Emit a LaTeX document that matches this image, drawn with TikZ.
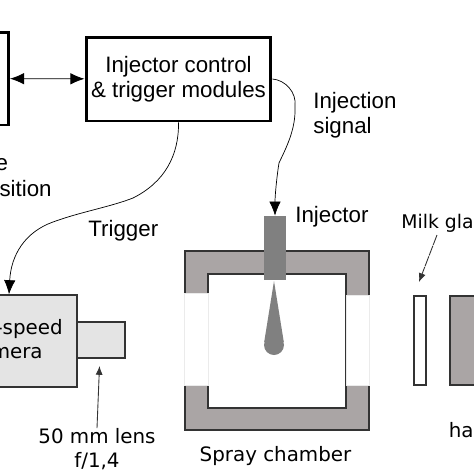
\documentclass[tikz,border=0pt]{standalone}
\usepackage{fontspec}
\setmainfont{Liberation Sans}
\newfontfamily\dejavu{DejaVu Sans}
\usepackage{xcolor}
\usetikzlibrary{arrows.meta,positioning}

\definecolor{wallgray}{HTML}{AAA5A5}
\definecolor{jetgray}{HTML}{808080}
\definecolor{camgray}{HTML}{E4E4E4}
\definecolor{edgegray}{HTML}{333333}

\tikzset{
  ctrlbox/.style={draw=black, line width=1.7pt, inner sep=0pt, align=center},
  campart/.style={draw=edgegray, line width=0.85pt, fill=camgray, inner sep=0pt},
  signal/.style={-{Latex[length=8pt,width=6.5pt]}, line width=0.4pt},
  pointer/.style={-{Latex[length=5pt,width=4pt]}, line width=0.5pt, draw=edgegray},
  uplabel/.style={font=\fontsize{12.7}{14}\selectfont, align=left, inner sep=0pt},
  lowlabel/.style={font=\dejavu\fontsize{11.3}{13.6}\selectfont, align=center, inner sep=0pt}
}

\begin{document}
\begin{tikzpicture}[x=0.02cm, y=-0.02cm]
\useasboundingbox (0,0) rectangle (474,474);

% Control electronics
\node[ctrlbox, minimum width=3.42cm, minimum height=1.86cm] (acq) at (-77,78.5) {};
\node[ctrlbox, uplabel, align=center, minimum width=3.7cm, minimum height=1.68cm] (ctrl) at (178.5,79)
  {Injector control\\\& trigger modules};
\draw[{Latex[length=8pt,width=6.5pt]}-{Latex[length=8pt,width=6.5pt]}, line width=0.5pt] (acq) -- (ctrl);
\node[uplabel, anchor=east] (acqa) at (8.5,165) {e};
\node[uplabel, anchor=east] (acqb) at (52,189) {sition};

% Camera and lens
\node[campart, minimum width=2.72cm, minimum height=1.84cm] (camera) at (9,341) {};
\node[campart, minimum width=0.96cm, minimum height=0.72cm] (lens) at (101,340) {};
\node[lowlabel, anchor=east] (cama) at (63,329) {-speed};
\node[lowlabel, anchor=east] (camb) at (43,353) {mera};
\node[lowlabel] (lenslabel) at (97,449) {50 mm lens\\f/1,4};
\coordinate (lenstip) at (99.5,366);
\draw[pointer] (lenslabel.north) -- (lenstip);

% Spray chamber walls
\begin{scope}
  \fill[wallgray] (185,251) rectangle (369,430);
  \fill[white] (208,274) rectangle (346,408);
  \draw[edgegray, line width=0.85pt] (185,251) rectangle (369,430);
  \draw[edgegray, line width=0.85pt] (208,274) rectangle (346,408);
  % Windows
  \fill[white, draw=black!8, line width=0.4pt] (184.5,293) rectangle (208,385);
  \fill[white, draw=black!8, line width=0.4pt] (346,295) rectangle (369.5,385);
\end{scope}
\node[lowlabel, anchor=center] (chamberlabel) at (275.5,456) {Spray chamber};

% Injector and spray
\node[fill=jetgray, minimum width=0.44cm, minimum height=1.28cm, inner sep=0pt] (injector) at (275,248) {};
\fill[jetgray] (274,281) -- (264.2,342) -- (283.8,342) -- cycle;
\fill[jetgray] (274,345) circle (10);
\node[uplabel, anchor=west] (injlabel) at (295,217) {Injector};

% Signals
\draw[signal] (ctrl.south) .. controls (179,155) and (165,182) .. (133,198)
  .. controls (110,207) and (80,212) .. (53,222)
  .. controls (25,232) and (11,255) .. (camera.north);
\node[uplabel, anchor=west] (triglabel) at (88,231) {Trigger};
\draw[signal] (ctrl.east) .. controls (285,80) and (297,92) .. (295,107)
  .. controls (296,130) and (285,150) .. (279,163)
  .. controls (277,175) and (275,195) .. (injector.north);
\node[uplabel, anchor=west] (signallabel) at (313,115) {Injection\\signal};

% Milk glass and lamp
\node[draw=edgegray, line width=0.85pt, fill=white, minimum width=0.24cm, minimum height=1.78cm, inner sep=0pt] (milk) at (420,340.5) {};
\node[draw=edgegray, line width=0.85pt, fill=wallgray, minimum width=1.4cm, minimum height=1.78cm, inner sep=0pt] (lamp) at (485,340.5) {};
\node[lowlabel, font=\dejavu\fontsize{10.7}{13.6}\selectfont, anchor=east] (milklabel) at (474,223) {Milk gla};
\coordinate (milkfrom) at (437,235);
\coordinate (milktip) at (419,282);
\draw[pointer, dash pattern=on 6pt off 0.5pt] (milkfrom) -- (milktip);
\node[lowlabel, anchor=east] (lamplabel) at (474,430) {ha};
\end{tikzpicture}
\end{document}
